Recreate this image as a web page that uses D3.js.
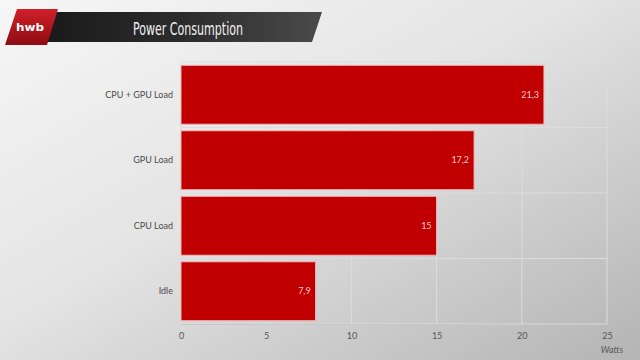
<!DOCTYPE html>
<html><head><meta charset="utf-8">
<script src="https://cdn.jsdelivr.net/npm/d3@7"></script>
<style>body{margin:0;}svg{display:block;}</style>
</head><body>
<svg id="c" width="640" height="360"></svg>
<script>
const categories = ["CPU + GPU Load", "GPU Load", "CPU Load", "Idle"];
const values = [21.3, 17.2, 15, 7.9];
const valueLabels = ["21,3", "17,2", "15", "7,9"];
const xTicks = [0, 5, 10, 15, 20, 25];
const title = "Power Consumption";
const axisTitle = "Watts";

const svg = d3.select("#c");
const defs = svg.append("defs");
const bg = defs.append("linearGradient").attr("id","bg").attr("x1","0").attr("y1","0").attr("x2","1").attr("y2","1");
bg.append("stop").attr("offset","0").attr("stop-color","#f6f6f6");
bg.append("stop").attr("offset","0.45").attr("stop-color","#e4e4e4");
bg.append("stop").attr("offset","1").attr("stop-color","#b4b4b4");
const ban = defs.append("linearGradient").attr("id","ban").attr("x1","0").attr("y1","0").attr("x2","1").attr("y2","0");
ban.append("stop").attr("offset","0").attr("stop-color","#1a1a1a");
ban.append("stop").attr("offset","0.5").attr("stop-color","#2c2c2c");
ban.append("stop").attr("offset","1").attr("stop-color","#4a4a4a");
const logo = defs.append("linearGradient").attr("id","logo").attr("x1","0").attr("y1","0").attr("x2","0").attr("y2","1");
logo.append("stop").attr("offset","0").attr("stop-color","#d0202a");
logo.append("stop").attr("offset","1").attr("stop-color","#8e0c12");

svg.append("rect").attr("width",640).attr("height",360).attr("fill","url(#bg)");

// banner
svg.append("path").attr("d","M55,12 L322,12 L312,42 L45,42 Z").attr("fill","url(#ban)");
svg.append("path").attr("d","M17,9 L58,9 L47,45 L5,45 Z").attr("fill","url(#logo)");
svg.append("text").attr("x",30).attr("y",31).attr("text-anchor","middle")
  .attr("font-family","DejaVu Sans").attr("font-weight","bold").attr("font-size",11)
  .attr("fill","#fff").attr("textLength",28).attr("lengthAdjust","spacingAndGlyphs").text("hwb");
svg.append("text").attr("x",133).attr("y",35)
  .attr("font-family","'DejaVu Sans Condensed','Liberation Sans Narrow',sans-serif")
  .attr("font-stretch","condensed").attr("font-size",17).attr("fill","#f2f2f2")
  .attr("textLength",110).attr("lengthAdjust","spacingAndGlyphs").text(title);

const margin = {left:181, right:33, top:62, bottom:36};
const W = 640, H = 360;
const x = d3.scaleLinear().domain([0,25]).range([margin.left, W - margin.right]);
const y = d3.scaleBand().domain(categories).range([margin.top, H - margin.bottom]).paddingInner(0.1).paddingOuter(0.05);

const g = svg.append("g");
g.selectAll(".vg").data(xTicks).join("line")
  .attr("x1",d=>x(d)).attr("x2",d=>x(d)).attr("y1",margin.top).attr("y2",H-margin.bottom)
  .attr("stroke","#dcdcdc").attr("stroke-width",1);
const seps = d3.range(categories.length+1).map(i => margin.top + i*(H-margin.top-margin.bottom)/categories.length);
g.selectAll(".hg").data(seps).join("line")
  .attr("x1",margin.left).attr("x2",x(25)).attr("y1",d=>d).attr("y2",d=>d)
  .attr("stroke","#dcdcdc").attr("stroke-width",1);

g.selectAll(".bar").data(categories).join("rect")
  .attr("x",x(0)).attr("y",d=>y(d)).attr("width",(d,i)=>x(values[i])-x(0)).attr("height",y.bandwidth())
  .attr("fill","#c00000").attr("stroke","#f2b8b8").attr("stroke-width",1);

g.selectAll(".vl").data(categories).join("text")
  .attr("x",(d,i)=>x(values[i])-5).attr("y",d=>y(d)+y.bandwidth()/2+3)
  .attr("text-anchor","end").attr("font-family","Lato, sans-serif").attr("font-size",9)
  .attr("fill","#f8c8c8").text((d,i)=>valueLabels[i]);

g.selectAll(".yl").data(categories).join("text")
  .attr("x",margin.left-8).attr("y",d=>y(d)+y.bandwidth()/2+3)
  .attr("text-anchor","end").attr("font-family","Lato, sans-serif").attr("font-size",9)
  .attr("fill","#4a4a4a").text(d=>d);

const xa = svg.append("g").attr("transform",`translate(0,${H-margin.bottom})`)
  .call(d3.axisBottom(x).tickValues(xTicks).tickSize(0).tickPadding(9));
xa.select(".domain").attr("stroke","#c8c8c8");
xa.selectAll("text").attr("font-family","Lato, sans-serif").attr("font-size",9).attr("fill","#555");

svg.append("text").attr("x",x(25)+16).attr("y",353).attr("text-anchor","end")
  .attr("font-family","Lato, sans-serif").attr("font-style","italic").attr("font-size",9)
  .attr("fill","#555").text(axisTitle);
</script>
</body></html>
